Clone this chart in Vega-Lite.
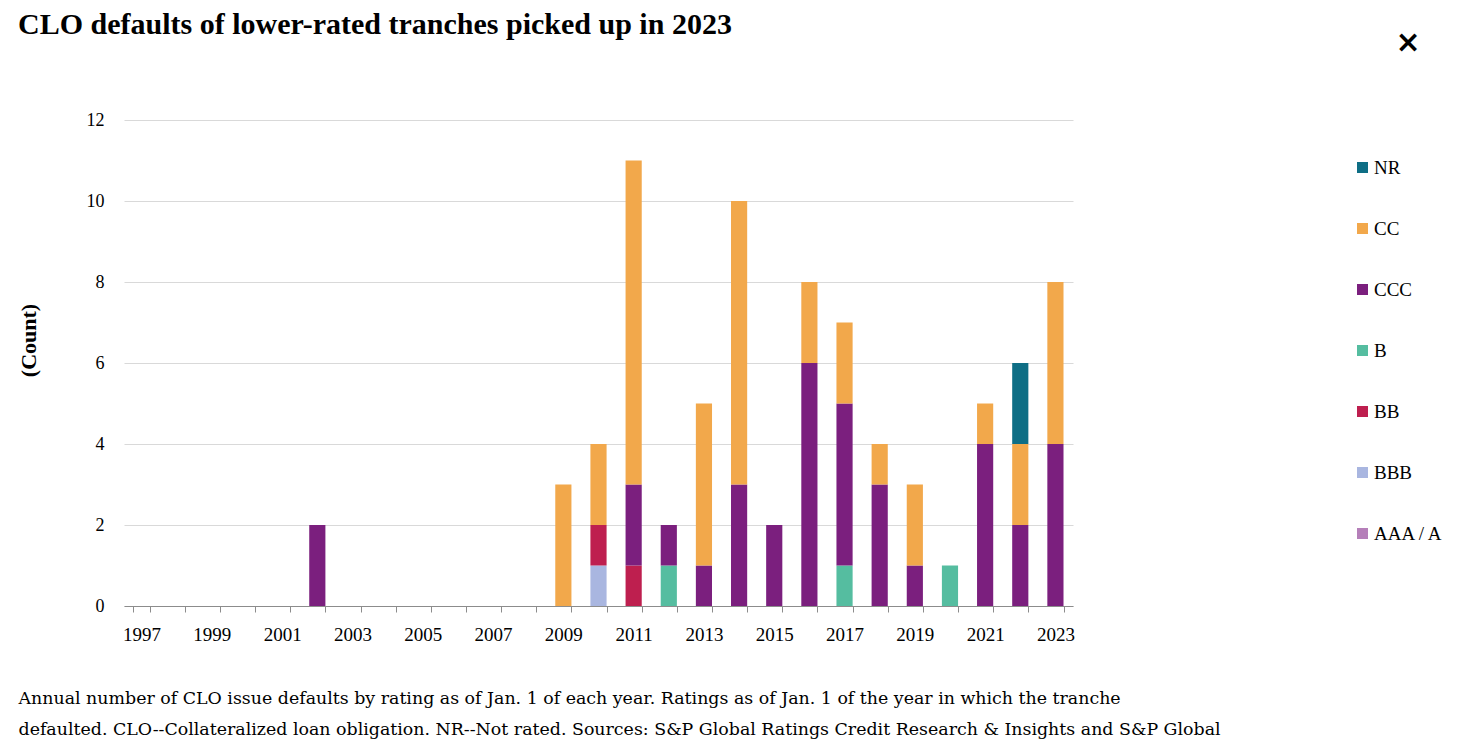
{
  "$schema": "https://vega.github.io/schema/vega-lite/v6.json",
  "autosize": "none",
  "width": 949,
  "height": 486,
  "padding": {"left": 124, "top": 120, "right": 386, "bottom": 138},
  "background": "white",
  "config": {
    "font": "Liberation Serif",
    "view": {"stroke": null}
  },
  "title": {
    "text": "CLO defaults of lower-rated tranches picked up in 2023",
    "anchor": "start",
    "frame": "group",
    "dx": -106,
    "offset": 0,
    "dy": 36,
    "fontSize": 30,
    "fontWeight": "bold",
    "font": "Liberation Serif",
    "color": "#000000",
    "baseline": "alphabetic"
  },
  "data": {
    "values": [
      {"year": 2002, "rating": "CCC", "count": 2},
      {"year": 2009, "rating": "CC", "count": 3},
      {"year": 2010, "rating": "BBB", "count": 1},
      {"year": 2010, "rating": "BB", "count": 1},
      {"year": 2010, "rating": "CC", "count": 2},
      {"year": 2011, "rating": "BB", "count": 1},
      {"year": 2011, "rating": "CCC", "count": 2},
      {"year": 2011, "rating": "CC", "count": 8},
      {"year": 2012, "rating": "B", "count": 1},
      {"year": 2012, "rating": "CCC", "count": 1},
      {"year": 2013, "rating": "CCC", "count": 1},
      {"year": 2013, "rating": "CC", "count": 4},
      {"year": 2014, "rating": "CCC", "count": 3},
      {"year": 2014, "rating": "CC", "count": 7},
      {"year": 2015, "rating": "CCC", "count": 2},
      {"year": 2016, "rating": "CCC", "count": 6},
      {"year": 2016, "rating": "CC", "count": 2},
      {"year": 2017, "rating": "B", "count": 1},
      {"year": 2017, "rating": "CCC", "count": 4},
      {"year": 2017, "rating": "CC", "count": 2},
      {"year": 2018, "rating": "CCC", "count": 3},
      {"year": 2018, "rating": "CC", "count": 1},
      {"year": 2019, "rating": "CCC", "count": 1},
      {"year": 2019, "rating": "CC", "count": 2},
      {"year": 2020, "rating": "B", "count": 1},
      {"year": 2021, "rating": "CCC", "count": 4},
      {"year": 2021, "rating": "CC", "count": 1},
      {"year": 2022, "rating": "CCC", "count": 2},
      {"year": 2022, "rating": "CC", "count": 2},
      {"year": 2022, "rating": "NR", "count": 2},
      {"year": 2023, "rating": "CCC", "count": 4},
      {"year": 2023, "rating": "CC", "count": 4}
    ]
  },
  "transform": [
    {"calculate": "indexof(['AAA / A','BBB','BB','B','CCC','CC','NR'], datum.rating)", "as": "stackRank"}
  ],
  "mark": {"type": "bar"},
  "encoding": {
    "x": {
      "field": "year",
      "type": "ordinal",
      "scale": {
        "domain": [1997,1998,1999,2000,2001,2002,2003,2004,2005,2006,2007,2008,2009,2010,2011,2012,2013,2014,2015,2016,2017,2018,2019,2020,2021,2022,2023],
        "paddingInner": 0.54,
        "paddingOuter": 0.27
      },
      "axis": {
        "title": [
          "Annual number of CLO issue defaults by rating as of Jan. 1 of each year. Ratings as of Jan. 1 of the year in which the tranche",
          "defaulted. CLO--Collateralized loan obligation. NR--Not rated. Sources: S&P Global Ratings Credit Research & Insights and S&P Global"
        ],
        "titleFont": "DejaVu Serif",
        "titleFontSize": 17.4,
        "titleFontWeight": "normal",
        "titleColor": "#000000",
        "titleAnchor": "start",
        "titleAlign": "left",
        "titleBaseline": "alphabetic",
        "titleX": -106,
        "titleY": 97,
        "titleLineHeight": 31,
        "labelAngle": 0,
        "labelExpr": "datum.value % 2 == 1 ? datum.label : ''",
        "labelFont": "Liberation Serif",
        "labelFontSize": 19,
        "labelColor": "#000000",
        "labelPadding": 13,
        "tickBand": "extent",
        "tickSize": 6,
        "tickColor": "#8c8c8c",
        "domainColor": "#8c8c8c",
        "grid": false
      }
    },
    "y": {
      "field": "count",
      "type": "quantitative",
      "aggregate": "sum",
      "stack": "zero",
      "scale": {"domain": [0, 12]},
      "axis": {
        "title": "(Count)",
        "titleFont": "Liberation Serif",
        "titleFontSize": 22,
        "titleFontWeight": "bold",
        "titleColor": "#000000",
        "titlePadding": 46,
        "titleY": 220,
        "values": [0, 2, 4, 6, 8, 10, 12],
        "labelFont": "Liberation Serif",
        "labelFontSize": 18,
        "labelColor": "#000000",
        "labelPadding": 20,
        "ticks": false,
        "domain": false,
        "grid": true,
        "gridColor": "#d9d9d9"
      }
    },
    "color": {
      "field": "rating",
      "type": "nominal",
      "scale": {
        "domain": ["NR", "CC", "CCC", "B", "BB", "BBB", "AAA / A"],
        "range": ["#0E6E85", "#F2A84B", "#7B1F7E", "#55BDA0", "#BE1F4F", "#A9B6E0", "#B57FB9"]
      },
      "legend": {
        "title": "×\u2800",
        "titleFont": "DejaVu Sans",
        "titleFontSize": 30,
        "titleFontWeight": "bold",
        "titleColor": "#000000",
        "titleAnchor": "end",
        "titlePadding": 100,
        "orient": "none",
        "legendX": 1229,
        "legendY": -92,
        "symbolType": "square",
        "symbolSize": 121,
        "symbolStrokeWidth": 0,
        "labelFont": "Liberation Serif",
        "labelFontSize": 19,
        "labelColor": "#000000",
        "labelOffset": 2,
        "rowPadding": 41
      }
    },
    "order": {"field": "stackRank", "type": "quantitative", "sort": "ascending"}
  }
}
